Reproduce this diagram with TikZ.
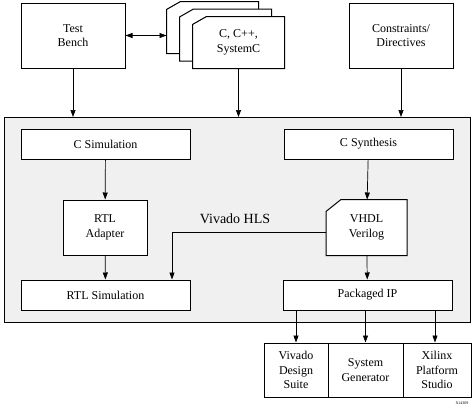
\documentclass[tikz,border=0pt]{standalone}
\usepackage{fontspec}
\setmainfont{Liberation Serif}
\usepackage{tikz}
\usetikzlibrary{arrows.meta}

% page outline with cut top left corner
\newcommand{\pageline}[3]{%
  \draw[line width=1pt,fill=white] (#1.south west) -- ([yshift=-#3]#1.north west)
    -- ([xshift=#2]#1.north west) -- (#1.north east) -- (#1.south east) -- cycle;}

\begin{document}
\begin{tikzpicture}[x=1pt,y=-1pt,
  box/.style={draw,line width=1pt,fill=white,align=center,inner sep=0pt,
    font=\fontsize{12}{14.5}\selectfont},
  page/.style={box,draw=none,fill=none},
  arr/.style={-{Triangle[length=7pt,width=5pt]},line width=0.7pt},
  dbl/.style={{Triangle[length=7pt,width=5pt]}-{Triangle[length=7pt,width=5pt]},line width=0.7pt}]
\useasboundingbox (0,0) rectangle (474,410);

% Inputs
\node[box,minimum width=104pt,minimum height=65pt] (tb) at (73,35.5) {Test\\Bench};
\node[page,minimum width=91pt,minimum height=51pt] (src3) at (212.5,27.5) {};
\pageline{src3}{14pt}{8pt}
\node[page,minimum width=91pt,minimum height=51pt] (src2) at (225.5,35) {};
\pageline{src2}{14pt}{8pt}
\node[page,minimum width=91pt,minimum height=51pt] (src) at (238.5,42.5) {\phantom{X}};
\pageline{src}{14pt}{8pt}
\node[page] at (src) {C, C++,\\SystemC};
\node[box,minimum width=104pt,minimum height=65pt] (cons) at (401,35.5) {Constraints/\\Directives};
\draw[dbl] (tb.east) -- (tb.east -| src3.west);

% Vivado HLS frame
\draw[line width=1pt,fill=gray!11!white] (4,117) rectangle (470,322);
\fill[white!94!black] (4.5,117.5) rectangle (469.5,321.5);
\coordinate (top) at (0,117);
\node[font=\fontsize{14}{16}\selectfont] (hls) at (235,219) {Vivado HLS};

\draw[arr] (tb.south) -- (tb.south |- top);
\draw[arr] (src.south) -- (src.south |- top);
\draw[arr] (cons.south) -- (cons.south |- top);

% Flow inside
\node[box,minimum width=169pt,minimum height=30pt] (csim) at (105.5,144) {C Simulation};
\node[box,minimum width=169pt,minimum height=30pt] (csyn) at (368.5,144) {C Synthesis};
\node[box,minimum width=84pt,minimum height=55pt] (adapt) at (105,227.5) {RTL\\Adapter};
\node[page,minimum width=80pt,minimum height=55pt] (hdl) at (366.5,227.5) {\phantom{X}};
\pageline{hdl}{15pt}{12pt}
\node[page] at (hdl) {VHDL\\Verilog};
\node[box,minimum width=169pt,minimum height=30pt] (rsim) at (105.5,295) {RTL Simulation};
\node[box,minimum width=169pt,minimum height=30pt] (pip) at (367.5,295) {Packaged IP};

\draw[arr] (csim) -- (adapt);
\draw[arr] (adapt) -- (rsim);
\draw[arr] (csyn) -- (hdl);
\draw[arr] (hdl) -- (pip);
\draw[arr] ([yshift=-4.5pt]hdl.west) -| ([xshift=66.5pt]rsim.north);

% Outputs
\node[box,minimum width=64pt,minimum height=54pt] (vds) at (296,370) {Vivado\\Design\\Suite};
\node[box,minimum width=75pt,minimum height=54pt] (sg) at (365.5,370) {System\\Generator};
\node[box,minimum width=68pt,minimum height=54pt] (xps) at (437,370) {Xilinx\\Platform\\Studio};

\draw[arr] (pip.south -| vds) -- (vds.north);
\draw[arr] (pip.south -| sg) -- (sg.north);
\draw[arr] ([xshift=-2pt]pip.south -| xps) -- ([xshift=-2pt]xps.north);

\node[font=\fontsize{4}{5}\selectfont] (fig) at (462,403) {X14309};
\end{tikzpicture}
\end{document}
